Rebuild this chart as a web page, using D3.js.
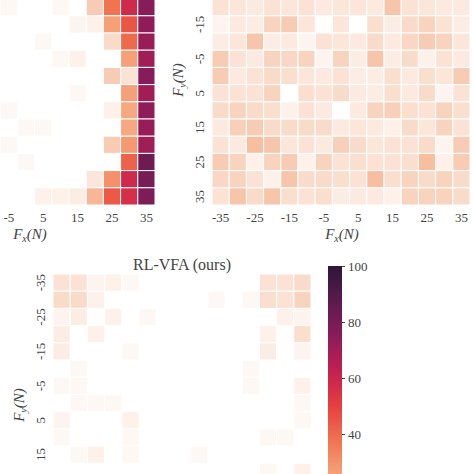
<!DOCTYPE html>
<html><head><meta charset="utf-8">
<script src="https://cdn.jsdelivr.net/npm/d3@7"></script>
<style>body{margin:0;background:#fff}svg{display:block}text{font-family:"Liberation Serif","DejaVu Serif",serif;fill:#444}</style>
</head><body><svg id="c" width="474" height="474"></svg>
<script>
const fxCats = [-35,-30,-25,-20,-15,-10,-5,0,5,10,15,20,25,30,35];
const fyCats = [-35,-30,-25,-20,-15,-10,-5,0,5,10,15,20,25,30,35];
const tickLabels = [-35,-25,-15,-5,5,15,25,35];
const cbarTicks = [40,60,80,100];
const title = "RL-VFA (ours)";
const rowsTL = [-20,-15,-10,-5,0,5,10,15,20,25,30,35];
const valsTL = [
 [0,0,0,0,0,0,2,0,0,2,0,14,38,58,76],
 [0,0,0,0,0,2,0,0,0,0,3,4,26,45,74],
 [0,0,0,0,0,0,0,0,2,0,0,0,10,40,72],
 [0,0,0,0,0,0,0,0,0,2,4,0,0,26,70],
 [0,0,0,0,0,0,0,0,0,0,0,0,14,8,76],
 [0,0,0,0,0,0,0,0,0,0,2,0,0,26,70],
 [0,0,0,0,0,0,2,0,0,0,0,0,4,24,74],
 [0,0,0,0,0,0,0,2,2,0,0,0,0,24,72],
 [0,0,0,0,0,0,2,0,0,0,0,0,14,28,70],
 [0,0,0,0,0,0,0,2,0,0,0,0,0,42,82],
 [0,0,0,0,0,0,0,0,0,0,0,7,30,58,80],
 [0,0,0,0,0,0,0,0,4,4,5,20,44,56,78]];
const rowsTR = rowsTL;
const valsTR = [
 [8,7,6,8,7,8,6,7,7,6,16,8,7,6,6],
 [3,6,5,12,14,7,0,7,0,9,5,10,12,8,5],
 [5,7,16,5,6,3,8,7,6,10,6,11,14,12,7],
 [14,8,6,12,11,12,3,12,5,16,5,10,4,8,6],
 [14,6,8,10,9,7,6,8,5,5,9,6,9,7,14],
 [8,8,8,12,0,9,8,10,6,5,9,6,10,3,8],
 [10,12,10,9,4,8,6,0,6,12,13,9,8,12,9],
 [6,13,14,10,10,10,10,6,7,6,4,10,7,12,8],
 [8,6,18,16,7,8,6,13,10,7,8,8,10,3,14],
 [14,12,4,12,14,4,12,8,9,8,8,9,18,4,14],
 [11,12,8,4,16,10,10,9,8,18,9,12,10,12,10],
 [8,16,10,16,9,8,9,5,6,6,4,12,12,12,10]];
const rowsB = [-35,-30,-25,-20,-15,-10,-5,0,5,10,15,20];
const valsB = [
 [8,8,3,4,2,0,0,0,0,0,0,0,8,8,10],
 [10,10,4,0,0,0,0,0,0,2,0,2,9,8,12],
 [3,5,0,4,0,2,0,0,0,0,0,0,0,4,3],
 [5,0,4,0,0,0,0,0,0,0,0,0,4,0,9],
 [5,0,0,0,2,0,0,0,0,0,0,0,5,0,3],
 [0,2,0,0,0,0,0,0,0,0,0,2,0,0,0],
 [2,2,0,0,0,0,0,0,0,0,0,2,0,0,4],
 [0,2,2,2,0,0,0,0,0,0,0,0,0,0,2],
 [3,0,0,0,4,0,0,0,0,0,0,0,0,0,2],
 [2,0,0,0,2,0,0,0,0,0,0,0,2,2,0],
 [0,2,4,0,2,0,0,0,2,0,0,0,0,0,0],
 [0,0,0,0,0,0,0,0,0,0,0,0,2,0,4]];

const rocketR = d3.piecewise(d3.interpolateRgb, ["#ffffff","#f8d2bc","#f6a47c","#f17550","#e5403f","#c31e51","#8a1c5a","#5a1b4e","#2d1638"]);
const color = d3.scaleSequential(rocketR).domain([0,100]);
const svg = d3.select("#c");
const cell = 17.2;

function panel(x0, y0, rows, vals, opts){
  const x = d3.scaleBand().domain(fxCats).range([x0, x0+15*cell]);
  const y = d3.scaleBand().domain(fyCats).range([y0, y0+15*cell]);
  const g = svg.append("g");
  rows.forEach((r,i)=>vals[i].forEach((v,j)=>{
    if(v<=0) return;
    g.append("rect").attr("x",x(fxCats[j])).attr("y",y(r)).attr("width",x.bandwidth()).attr("height",y.bandwidth())
     .attr("fill",color(v)).attr("stroke","#fff").attr("stroke-width",1);
  }));
  if(opts.xaxis){
    const by = y0+15*cell;
    tickLabels.filter(t=>x(t)+x.bandwidth()/2>6).forEach(t=>g.append("text").attr("x",x(t)+x.bandwidth()/2).attr("y",by+17).attr("text-anchor","middle").attr("font-size",13).text(t));
    g.append("text").attr("x",opts.xlab).attr("y",by+34).attr("text-anchor","middle").attr("font-size",15).attr("font-style","italic").html("F<tspan font-size='10' dy='3'>x</tspan><tspan dy='-3'>(N)</tspan>");
  }
  if(opts.yaxis){
    tickLabels.filter(t=>y(t)>0 && y(t)+y.bandwidth()/2<462).forEach(t=>{const cy=y(t)+y.bandwidth()/2;
      g.append("text").attr("transform",`translate(${x0-8},${cy}) rotate(-90)`).attr("text-anchor","middle").attr("font-size",13).text(t);});
    g.append("text").attr("transform",`translate(${x0-29},${opts.ylab}) rotate(-90)`).attr("text-anchor","middle").attr("font-size",15).attr("font-style","italic").html("F<tspan font-size='10' dy='3'>y</tspan><tspan dy='-3'>(N)</tspan>");
  }
}
panel(155-15*cell, 205-15*cell, rowsTL, valsTL, {xaxis:true, xlab:30});
panel(212, 205-15*cell, rowsTR, valsTR, {xaxis:true, yaxis:true, xlab:342, ylab:80});
panel(53, 274, rowsB, valsB, {yaxis:true, ylab:405});
svg.append("text").attr("x",182).attr("y",270).attr("text-anchor","middle").attr("font-size",16).text(title);

const cb = d3.scaleLinear().domain([0,100]).range([266+280,266]);
const defs = svg.append("defs");
const lg = defs.append("linearGradient").attr("id","cg").attr("x1",0).attr("x2",0).attr("y1",1).attr("y2",0);
d3.range(0,1.001,0.05).forEach(t=>lg.append("stop").attr("offset",t).attr("stop-color",color(t*100)));
svg.append("rect").attr("x",328).attr("y",cb(100)).attr("width",14).attr("height",cb(0)-cb(100)).attr("fill","url(#cg)");
const ax = svg.append("g").attr("transform","translate(342,0)").call(d3.axisRight(cb).tickValues(cbarTicks).tickSize(3));
ax.select(".domain").remove();
ax.selectAll("line").attr("stroke","#444");
ax.selectAll("text").attr("font-size",13).attr("font-family","Liberation Serif").attr("fill","#444");
</script></body></html>
